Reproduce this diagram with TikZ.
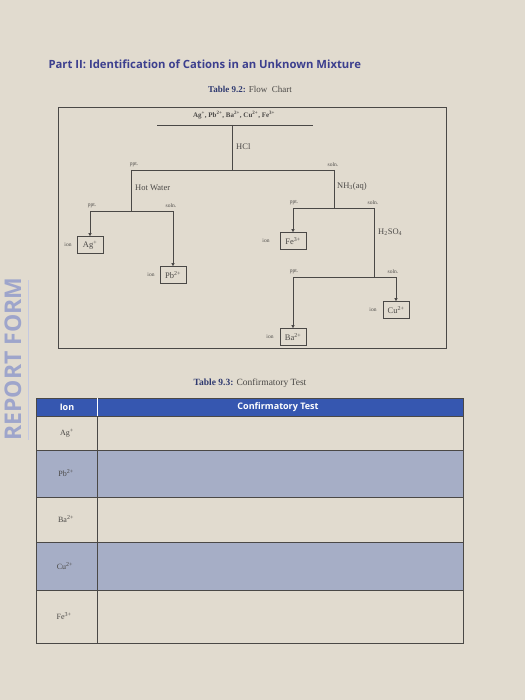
\documentclass[tikz,border=0pt]{standalone}
\usepackage{fontspec}
\setmainfont{Liberation Serif}
\newfontfamily\headfont{Open Sans}
\definecolor{paper}{HTML}{E1DBCF}
\definecolor{headblue}{HTML}{3C3F8E}
\definecolor{navy}{HTML}{2F3A70}
\definecolor{barblue}{HTML}{3657B0}
\definecolor{rowblue}{HTML}{A6AEC6}
\definecolor{ink}{HTML}{4A4846}
\definecolor{faint}{HTML}{9EA5CB}
\usetikzlibrary{positioning, arrows.meta}

\begin{document}
\begin{tikzpicture}[x=1pt, y=-1pt,
  ionbox/.style={draw=ink, line width=0.6pt, text=ink, font=\fontsize{8.5}{9}\selectfont,
                 inner sep=1pt, minimum width=26pt, minimum height=17pt},
  tag/.style={text=ink, font=\fontsize{5.5}{6}\selectfont, inner sep=1pt},
  reagent/.style={text=ink, font=\fontsize{8.5}{9}\selectfont, inner sep=1pt, anchor=west},
  link/.style={draw=ink, line width=0.6pt},
  drop/.style={link, -{Triangle[length=3pt, width=3pt]}},
  rowlbl/.style={text=ink, font=\fontsize{8}{9}\selectfont},
  colhead/.style={text=white, font=\headfont\bfseries\fontsize{9}{10}\selectfont},
]

\fill[paper] (0,0) rectangle (525,700);
\useasboundingbox (0,0) rectangle (525,700);

\node[anchor=west, text=headblue, font=\headfont\bfseries\fontsize{11.3}{13}\selectfont] (title)
  at (45,64) {Part II: Identification of Cations in an Unknown Mixture};

\node[font=\fontsize{9}{10}\selectfont, text=ink] (cap92) at (250,89)
  {\textcolor{navy}{\bfseries Table 9.2:} Flow\ \ Chart};

\draw[link] (58,107) rectangle (446,348);

\node[text=ink, font=\bfseries\fontsize{7}{8}\selectfont] (mix) at (234,115)
  {Ag\textsuperscript{+}, Pb\textsuperscript{2+}, Ba\textsuperscript{2+}, Cu\textsuperscript{2+}, Fe\textsuperscript{3+}};
\coordinate (barl) at (157,125);
\coordinate (barr) at (313,125);
\coordinate (stem) at (232,125);
\coordinate (j1) at (232,170);
\coordinate (a1) at (131,170);
\coordinate (b1) at (334,170);
\coordinate (a2) at (131,211);
\coordinate (b2) at (334,208);
\coordinate (c3) at (374,277);

\node[ionbox] (ag) at (90,245) {Ag\textsuperscript{+}};
\node[ionbox] (pb) at (173,275) {Pb\textsuperscript{2+}};
\node[ionbox] (fe) at (293,241) {Fe\textsuperscript{3+}};
\node[ionbox] (ba) at (293,337) {Ba\textsuperscript{2+}};
\node[ionbox] (cu) at (396,310) {Cu\textsuperscript{2+}};

\node[tag, left=4pt of ag] (agion) {ion};
\node[tag, left=4pt of pb] (pbion) {ion};
\node[tag, left=9pt of fe] (feion) {ion};
\node[tag, left=5pt of ba] (baion) {ion};
\node[tag, left=5pt of cu] (cuion) {ion};

\draw[link] (barl) -- (barr);
\draw[link] (stem) -- (j1);
\draw[link] (a1) -- (b1);
\draw[link] (a1) -- (a2);
\draw[drop] (a2) -| (ag.north);
\draw[drop] (a2) -| (pb.north);
\draw[link] (b1) -- (b2);
\draw[drop] (b2) -| (fe.north);
\draw[link] (b2) -| (c3);
\draw[drop] (c3) -| (ba.north);
\draw[drop] (c3) -| (cu.north);

\node[reagent] (hcl) at (235,147) {HCl};
\node[reagent] (hot) at (134,188) {Hot Water};
\node[reagent] (nh3) at (336,186) {NH\textsubscript{3}(aq)};
\node[reagent] (h2so4) at (377,232) {H\textsubscript{2}SO\textsubscript{4}};

\node[tag, anchor=south] (ppt1) at (134,168) {ppt.};
\node[tag, anchor=south] (sol1) at (333,168) {soln.};
\node[tag, anchor=south] (ppt2) at (92,209) {ppt.};
\node[tag, anchor=south] (sol2) at (171,209) {soln.};
\node[tag, anchor=south] (ppt3) at (294,206) {ppt.};
\node[tag, anchor=south] (sol3) at (373,206) {soln.};
\node[tag, anchor=south] (ppt4) at (294,275) {ppt.};
\node[tag, anchor=south] (sol4) at (393,275) {soln.};

\node[rotate=90, text=faint, font=\headfont\bfseries\fontsize{23}{24}\selectfont] (report) at (13,359) {REPORT FORM};
\draw[faint!60, line width=0.5pt] (28,280) -- (28,440);

\node[font=\fontsize{9.5}{11}\selectfont, text=ink] (cap93) at (250,383)
  {\textcolor{navy}{\bfseries Table 9.3:} Confirmatory Test};

\fill[barblue] (36,398) rectangle (463,416);
\fill[rowblue] (36,450) rectangle (463,497);
\fill[rowblue] (36,542) rectangle (463,590);
\draw[ink, line width=0.6pt] (36,398) rectangle (463,643);
\draw[ink, line width=0.6pt] (36,416) -- (463,416);
\draw[ink, line width=0.6pt] (36,450) -- (463,450);
\draw[ink, line width=0.6pt] (36,497) -- (463,497);
\draw[ink, line width=0.6pt] (36,542) -- (463,542);
\draw[ink, line width=0.6pt] (36,590) -- (463,590);
\draw[ink, line width=0.6pt] (97,398) -- (97,643);
\draw[white, line width=0.6pt] (97,398) -- (97,416);

\node[colhead] (hion) at (67,407) {Ion};
\node[colhead] (htest) at (278,407) {Confirmatory Test};

\node[rowlbl] (rag) at (67,433) {Ag\textsuperscript{+}};
\node[rowlbl] (rpb) at (66,473) {Pb\textsuperscript{2+}};
\node[rowlbl] (rba) at (66,519) {Ba\textsuperscript{2+}};
\node[rowlbl] (rcu) at (65,566) {Cu\textsuperscript{2+}};
\node[rowlbl] (rfe) at (64,616) {Fe\textsuperscript{3+}};

\end{tikzpicture}
\end{document}
